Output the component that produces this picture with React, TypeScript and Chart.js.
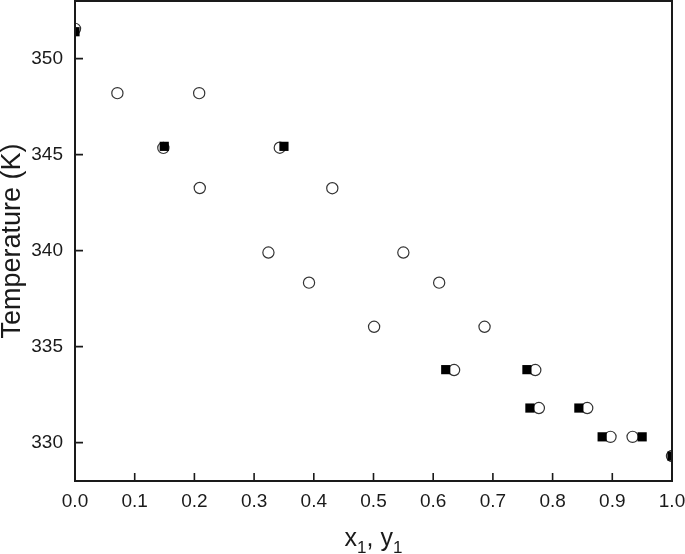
import React, { useEffect, useRef } from "react";
import { Chart, registerables } from "chart.js";

Chart.register(...registerables);

// Open circles (y1 / vapour side)
const circleX = [0.0, 0.071, 0.148, 0.208, 0.209, 0.343, 0.431, 0.324, 0.392, 0.501, 0.55, 0.61, 0.686, 0.635, 0.771, 0.777, 0.858, 0.897, 0.934, 1.0];
const circleY = [351.55, 348.2, 345.35, 348.2, 343.26, 345.36, 343.25, 339.9, 338.33, 336.03, 339.9, 338.33, 336.03, 333.78, 333.78, 331.8, 331.8, 330.3, 330.3, 329.3];
// Filled squares
const squareX = [0.0, 0.1495, 0.35, 0.621, 0.757, 0.762, 0.844, 0.883, 0.95, 1.0];
const squareY = [351.4, 345.43, 345.43, 333.8, 333.8, 331.8, 331.8, 330.3, 330.3, 329.3];

const xTicks = [0.0, 0.1, 0.2, 0.3, 0.4, 0.5, 0.6, 0.7, 0.8, 0.9, 1.0];
const yTicks = [330, 335, 340, 345, 350];
const yTitle = "Temperature (K)";
const xTitleParts: [string, boolean][] = [["x", false], ["1", true], [", y", false], ["1", true]];

const FONT = '"Liberation Sans", Arial, Helvetica, sans-serif';
const INK = "#1a1a1a";

const framePlugin = {
  id: "frameTicks",
  afterDraw(chart: any) {
    const { ctx, chartArea: a, scales } = chart;
    ctx.save();
    ctx.strokeStyle = INK;
    ctx.lineWidth = 2;
    ctx.strokeRect(a.left, a.top, a.right - a.left, a.bottom - a.top);
    ctx.lineWidth = 1.6;
    ctx.beginPath();
    for (const v of xTicks) {
      const p = scales.x.getPixelForValue(v);
      ctx.moveTo(p, a.bottom);
      ctx.lineTo(p, a.bottom - 8);
    }
    for (const v of yTicks) {
      const p = scales.y.getPixelForValue(v);
      ctx.moveTo(a.left, p);
      ctx.lineTo(a.left + 8, p);
    }
    ctx.stroke();

    // x-axis title with subscripts
    const big = `25px ${FONT}`;
    const small = `17px ${FONT}`;
    let total = 0;
    const widths: number[] = [];
    for (const [t, sub] of xTitleParts) {
      ctx.font = sub ? small : big;
      const w = ctx.measureText(t).width;
      widths.push(w);
      total += w;
    }
    let x = (a.left + a.right) / 2 - total / 2;
    ctx.fillStyle = INK;
    ctx.textBaseline = "alphabetic";
    ctx.textAlign = "left";
    xTitleParts.forEach(([t, sub], i) => {
      ctx.font = sub ? small : big;
      ctx.fillText(t, x, sub ? 553 : 546);
      x += widths[i];
    });
    ctx.restore();
  },
};

const noPad = (s: any) => {
  s.paddingTop = 0;
  s.paddingBottom = 0;
  s.paddingLeft = 0;
  s.paddingRight = 0;
};

export default function App() {
  const ref = useRef<HTMLCanvasElement | null>(null);

  useEffect(() => {
    if (!ref.current) return;
    const chart = new Chart(ref.current, {
      type: "scatter",
      data: {
        datasets: [
          {
            label: "x1",
            data: squareX.map((x, i) => ({ x, y: squareY[i] })),
            pointStyle: "rect",
            pointRadius: 6.5,
            pointHoverRadius: 6.5,
            backgroundColor: "#000000",
            borderColor: "#000000",
            borderWidth: 0,
            clip: 0,
          } as any,
          {
            label: "y1",
            data: circleX.map((x, i) => ({ x, y: circleY[i] })),
            pointStyle: "circle",
            pointRadius: 5.6,
            pointHoverRadius: 5.6,
            backgroundColor: "#ffffff",
            borderColor: "#333333",
            borderWidth: 1.2,
            clip: 0,
          } as any,
        ],
      },
      options: {
        animation: false,
        responsive: false,
        devicePixelRatio: 1,
        layout: { autoPadding: false, padding: { top: 1, right: 13, left: 0, bottom: 0 } },
        plugins: {
          legend: { display: false },
          tooltip: { enabled: false },
        },
        scales: {
          x: {
            type: "linear",
            min: 0,
            max: 1,
            grid: { display: false, drawTicks: false },
            border: { display: false },
            afterBuildTicks: (s: any) => {
              s.ticks = xTicks.map((v) => ({ value: v }));
            },
            afterFit: (s: any) => {
              s.height = 73;
              noPad(s);
            },
            ticks: {
              padding: 9,
              color: INK,
              font: { family: FONT, size: 19 },
              maxRotation: 0,
              callback: (v: any) => Number(v).toFixed(1),
            },
            title: { display: false },
          },
          y: {
            type: "linear",
            min: 328,
            max: 353,
            grid: { display: false, drawTicks: false },
            border: { display: false },
            afterBuildTicks: (s: any) => {
              s.ticks = yTicks.map((v) => ({ value: v }));
            },
            afterFit: (s: any) => {
              s.width = 75;
              noPad(s);
            },
            ticks: {
              padding: 12,
              color: INK,
              font: { family: FONT, size: 19 },
              callback: (v: any) => String(v),
            },
            title: {
              display: true,
              text: yTitle,
              color: INK,
              font: { family: FONT, size: 27, lineHeight: 0.95 },
              padding: { top: 0, bottom: 0 },
            },
          },
        },
      },
      plugins: [framePlugin],
    });
    return () => chart.destroy();
  }, []);

  return (
    <div style={{ position: "fixed", left: 0, top: 0, width: 685, height: 554, background: "#ffffff" }}>
      <canvas ref={ref} width={685} height={554} style={{ display: "block" }} />
    </div>
  );
}
